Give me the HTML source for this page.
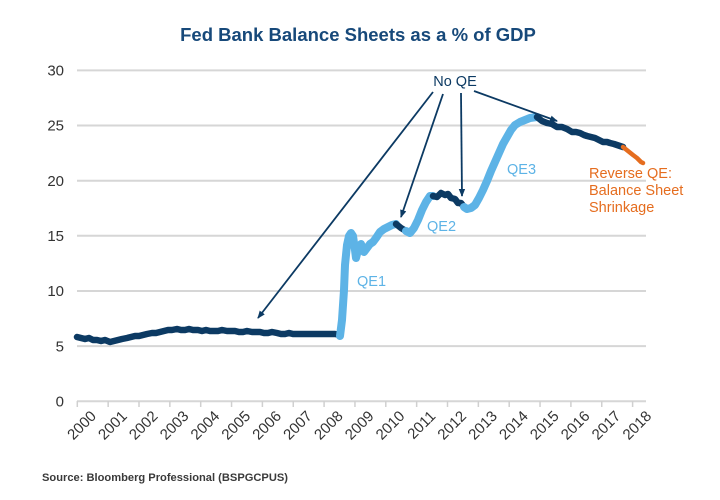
<!DOCTYPE html>
<html>
<head>
<meta charset="utf-8">
<style>
html,body{margin:0;padding:0;background:#fff;}
svg{display:block;}
text{font-family:"Liberation Sans",Arial,sans-serif;}
</style>
</head>
<body>
<svg width="720" height="500" viewBox="0 0 720 500" xmlns="http://www.w3.org/2000/svg">
<defs>
<marker id="ah" markerWidth="8" markerHeight="8" refX="7" refY="4" orient="auto" markerUnits="userSpaceOnUse">
<path d="M0,0.8 L8,4 L0,7.2 Z" fill="#0c3a63"/>
</marker>
</defs>
<rect width="720" height="500" fill="#fff"/>
<text x="358" y="41" text-anchor="middle" font-size="18.5" font-weight="bold" fill="#17497a">Fed Bank Balance Sheets as a % of GDP</text>

<!-- gridlines -->
<g stroke="#d6d6d6" stroke-width="2">
<line x1="77" y1="70.4" x2="646" y2="70.4"/>
<line x1="77" y1="125.5" x2="646" y2="125.5"/>
<line x1="77" y1="180.7" x2="646" y2="180.7"/>
<line x1="77" y1="235.8" x2="646" y2="235.8"/>
<line x1="77" y1="291" x2="646" y2="291"/>
<line x1="77" y1="346.1" x2="646" y2="346.1"/>
<line x1="77" y1="401.3" x2="646" y2="401.3"/>
</g>
<g stroke="#d0d0d0" stroke-width="1.5">
<line x1="77.3" y1="401" x2="77.3" y2="407"/>
<line x1="108.15" y1="401" x2="108.15" y2="407"/>
<line x1="139" y1="401" x2="139" y2="407"/>
<line x1="169.85" y1="401" x2="169.85" y2="407"/>
<line x1="200.7" y1="401" x2="200.7" y2="407"/>
<line x1="231.55" y1="401" x2="231.55" y2="407"/>
<line x1="262.4" y1="401" x2="262.4" y2="407"/>
<line x1="293.25" y1="401" x2="293.25" y2="407"/>
<line x1="324.1" y1="401" x2="324.1" y2="407"/>
<line x1="354.95" y1="401" x2="354.95" y2="407"/>
<line x1="385.8" y1="401" x2="385.8" y2="407"/>
<line x1="416.65" y1="401" x2="416.65" y2="407"/>
<line x1="447.5" y1="401" x2="447.5" y2="407"/>
<line x1="478.35" y1="401" x2="478.35" y2="407"/>
<line x1="509.2" y1="401" x2="509.2" y2="407"/>
<line x1="540.05" y1="401" x2="540.05" y2="407"/>
<line x1="570.9" y1="401" x2="570.9" y2="407"/>
<line x1="601.75" y1="401" x2="601.75" y2="407"/>
<line x1="632.6" y1="401" x2="632.6" y2="407"/>
</g>

<!-- y labels -->
<g font-size="15" fill="#333" text-anchor="end">
<text x="64" y="75.6">30</text>
<text x="64" y="130.7">25</text>
<text x="64" y="185.9">20</text>
<text x="64" y="241">15</text>
<text x="64" y="296.2">10</text>
<text x="64" y="351.3">5</text>
<text x="64" y="406.5">0</text>
</g>

<!-- x labels -->
<g font-size="15" fill="#333" text-anchor="end">
<text transform="translate(97,417) rotate(-45)">2000</text>
<text transform="translate(127.85,417) rotate(-45)">2001</text>
<text transform="translate(158.7,417) rotate(-45)">2002</text>
<text transform="translate(189.55,417) rotate(-45)">2003</text>
<text transform="translate(220.4,417) rotate(-45)">2004</text>
<text transform="translate(251.25,417) rotate(-45)">2005</text>
<text transform="translate(282.1,417) rotate(-45)">2006</text>
<text transform="translate(312.95,417) rotate(-45)">2007</text>
<text transform="translate(343.8,417) rotate(-45)">2008</text>
<text transform="translate(374.65,417) rotate(-45)">2009</text>
<text transform="translate(405.5,417) rotate(-45)">2010</text>
<text transform="translate(436.35,417) rotate(-45)">2011</text>
<text transform="translate(467.2,417) rotate(-45)">2012</text>
<text transform="translate(498.05,417) rotate(-45)">2013</text>
<text transform="translate(528.9,417) rotate(-45)">2014</text>
<text transform="translate(559.75,417) rotate(-45)">2015</text>
<text transform="translate(590.6,417) rotate(-45)">2016</text>
<text transform="translate(621.45,417) rotate(-45)">2017</text>
<text transform="translate(652.3,417) rotate(-45)">2018</text>
</g>

<!-- series -->
<g fill="none" stroke-linejoin="round" stroke-linecap="round">
<polyline stroke="#0c3a63" stroke-width="6.5" points="77,337 81,338 85,339 89,338 93,340 97,340 101,341 105,340 110,342 114,341 118,340 122,339 127,338 131,337 135,336 139,336 143,335 147,334 152,333 156,333 160,332 164,331 168,330 172,330 177,329 181,330 185,330 189,329 193,330 198,330 202,331 206,330 210,331 214,331 218,331 222,330 227,331 231,331 235,331 239,332 243,332 247,331 252,332 256,332 260,332 264,333 268,333 272,332 277,333 281,334 285,334 289,333 293,334 297,334 302,334 306,334 310,334 314,334 318,334 322,334 327,334 331,334 335,334 340,335"/>
<polyline stroke="#5db3e6" stroke-width="8" points="340,336 342,320 344,290 345,265 347,245 349,236 351,233 353,236 355,250 356,258 358,250 361,244 364,252 367,248 370,244 373,242 376,238 380,232 384,229 388,227 392,225 396,224"/>
<polyline stroke="#0c3a63" stroke-width="6.5" points="396,224 401,228 406,231"/>
<polyline stroke="#5db3e6" stroke-width="8" points="406,231 410,233 414,228 418,220 422,210 426,202 430,196 433,196"/>
<polyline stroke="#0c3a63" stroke-width="6.5" points="433,196 437,197 441,193 445,195 448,194 451,198 455,199 458,203 461,203 464,207"/>
<polyline stroke="#5db3e6" stroke-width="8" points="464,207 467,209 471,208 475,205 479,198 483,190 487,181 491,171 495,162 499,153 503,144 507,137 511,130 515,125 520,122 525,120 530,118 537,117"/>
<polyline stroke="#0c3a63" stroke-width="6.5" points="537,117 542,121 547,123 552,124 557,127 562,127 567,129 572,132 576,132 580,133 584,135 587,136 591,137 595,138 599,140 603,142 607,142 610,143 614,144 617,145 620,146 623,147"/>
<polyline stroke="#e56d1f" stroke-width="4.5" points="623,147 628,151 633,155 637,158 641,162 643,163"/>
</g>

<!-- annotations -->
<text x="455" y="86" text-anchor="middle" font-size="14.5" fill="#0c3a63">No QE</text>
<g stroke="#0c3a63" stroke-width="1.8" fill="none">
<line x1="433" y1="92" x2="258" y2="318" marker-end="url(#ah)"/>
<line x1="443" y1="94" x2="401" y2="217" marker-end="url(#ah)"/>
<line x1="461" y1="93" x2="462" y2="196" marker-end="url(#ah)"/>
<line x1="474" y1="91" x2="557" y2="121" marker-end="url(#ah)"/>
</g>

<g font-size="14.5" fill="#5db3e6">
<text x="357" y="286">QE1</text>
<text x="427" y="231">QE2</text>
<text x="507" y="174">QE3</text>
</g>
<g font-size="14.5" fill="#e56d1f">
<text x="589" y="178">Reverse QE:</text>
<text x="589" y="195">Balance Sheet</text>
<text x="589" y="212">Shrinkage</text>
</g>

<text x="42" y="481" font-size="11" font-weight="bold" fill="#3a3a3a" textLength="246" lengthAdjust="spacingAndGlyphs">Source: Bloomberg Professional (BSPGCPUS)</text>
</svg>
</body>
</html>
